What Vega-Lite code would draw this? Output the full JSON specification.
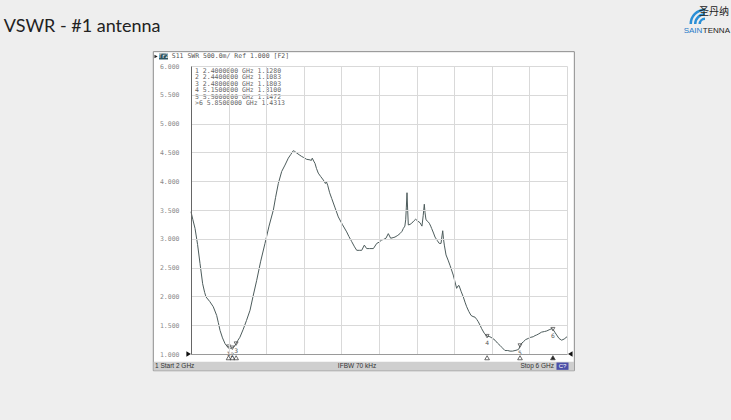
{
  "$schema": "https://vega.github.io/schema/vega-lite/v6.json",
  "width": 376,
  "height": 288,
  "autosize": {"type": "none"},
  "padding": {"left": 191, "top": 66, "right": 164, "bottom": 66},
  "background": "#eeeeee",
  "config": {
    "view": {"stroke": null},
    "axis": {"title": null, "ticks": false, "gridColor": "#d9d9d9", "gridWidth": 1}
  },
  "datasets": {
    "trace": [
      {"f": 2.000, "v": 3.47}, {"f": 2.020, "v": 3.33}, {"f": 2.043, "v": 3.18}, {"f": 2.070, "v": 2.90},
      {"f": 2.096, "v": 2.57}, {"f": 2.124, "v": 2.22}, {"f": 2.145, "v": 2.07}, {"f": 2.160, "v": 1.99},
      {"f": 2.200, "v": 1.91}, {"f": 2.237, "v": 1.82}, {"f": 2.273, "v": 1.67}, {"f": 2.290, "v": 1.55},
      {"f": 2.309, "v": 1.41}, {"f": 2.335, "v": 1.28}, {"f": 2.362, "v": 1.18}, {"f": 2.390, "v": 1.12},
      {"f": 2.400, "v": 1.128}, {"f": 2.420, "v": 1.10}, {"f": 2.440, "v": 1.108}, {"f": 2.460, "v": 1.13},
      {"f": 2.480, "v": 1.18}, {"f": 2.500, "v": 1.24}, {"f": 2.520, "v": 1.29}, {"f": 2.556, "v": 1.43},
      {"f": 2.590, "v": 1.58}, {"f": 2.628, "v": 1.76}, {"f": 2.660, "v": 2.00}, {"f": 2.699, "v": 2.28},
      {"f": 2.740, "v": 2.60}, {"f": 2.787, "v": 2.92}, {"f": 2.830, "v": 3.22}, {"f": 2.876, "v": 3.50},
      {"f": 2.900, "v": 3.72}, {"f": 2.929, "v": 3.96}, {"f": 2.965, "v": 4.17}, {"f": 3.000, "v": 4.28},
      {"f": 3.035, "v": 4.40}, {"f": 3.060, "v": 4.46}, {"f": 3.088, "v": 4.53}, {"f": 3.100, "v": 4.52},
      {"f": 3.124, "v": 4.49}, {"f": 3.150, "v": 4.46}, {"f": 3.177, "v": 4.43}, {"f": 3.200, "v": 4.41},
      {"f": 3.230, "v": 4.38}, {"f": 3.266, "v": 4.37}, {"f": 3.280, "v": 4.36}, {"f": 3.290, "v": 4.40},
      {"f": 3.305, "v": 4.35}, {"f": 3.319, "v": 4.31}, {"f": 3.335, "v": 4.22}, {"f": 3.354, "v": 4.14},
      {"f": 3.380, "v": 4.08}, {"f": 3.408, "v": 4.02}, {"f": 3.430, "v": 3.96}, {"f": 3.440, "v": 3.99},
      {"f": 3.454, "v": 3.93}, {"f": 3.475, "v": 3.80}, {"f": 3.497, "v": 3.70}, {"f": 3.530, "v": 3.55},
      {"f": 3.567, "v": 3.38}, {"f": 3.610, "v": 3.25}, {"f": 3.656, "v": 3.12}, {"f": 3.680, "v": 3.04},
      {"f": 3.710, "v": 2.95}, {"f": 3.740, "v": 2.86}, {"f": 3.763, "v": 2.80}, {"f": 3.790, "v": 2.80},
      {"f": 3.816, "v": 2.80}, {"f": 3.844, "v": 2.89}, {"f": 3.869, "v": 2.83}, {"f": 3.900, "v": 2.83},
      {"f": 3.940, "v": 2.83}, {"f": 3.976, "v": 2.92}, {"f": 4.000, "v": 2.94}, {"f": 4.029, "v": 2.98},
      {"f": 4.050, "v": 2.99}, {"f": 4.074, "v": 3.01}, {"f": 4.099, "v": 3.09}, {"f": 4.124, "v": 3.01},
      {"f": 4.150, "v": 3.02}, {"f": 4.170, "v": 3.03}, {"f": 4.200, "v": 3.06}, {"f": 4.223, "v": 3.09},
      {"f": 4.245, "v": 3.13}, {"f": 4.259, "v": 3.18}, {"f": 4.275, "v": 3.22}, {"f": 4.284, "v": 3.33},
      {"f": 4.291, "v": 3.55}, {"f": 4.298, "v": 3.80}, {"f": 4.305, "v": 3.50}, {"f": 4.312, "v": 3.24},
      {"f": 4.330, "v": 3.25}, {"f": 4.348, "v": 3.27}, {"f": 4.370, "v": 3.31}, {"f": 4.390, "v": 3.34},
      {"f": 4.410, "v": 3.31}, {"f": 4.436, "v": 3.28}, {"f": 4.457, "v": 3.22}, {"f": 4.470, "v": 3.40},
      {"f": 4.482, "v": 3.60}, {"f": 4.490, "v": 3.45}, {"f": 4.500, "v": 3.33}, {"f": 4.520, "v": 3.30},
      {"f": 4.535, "v": 3.27}, {"f": 4.550, "v": 3.22}, {"f": 4.560, "v": 3.18}, {"f": 4.580, "v": 3.10},
      {"f": 4.596, "v": 3.03}, {"f": 4.620, "v": 2.97}, {"f": 4.641, "v": 2.92}, {"f": 4.660, "v": 2.92},
      {"f": 4.670, "v": 3.05}, {"f": 4.678, "v": 3.14}, {"f": 4.686, "v": 3.00}, {"f": 4.695, "v": 2.89},
      {"f": 4.713, "v": 2.72}, {"f": 4.735, "v": 2.63}, {"f": 4.755, "v": 2.54}, {"f": 4.790, "v": 2.37},
      {"f": 4.826, "v": 2.14}, {"f": 4.840, "v": 2.18}, {"f": 4.851, "v": 2.19}, {"f": 4.875, "v": 2.08},
      {"f": 4.897, "v": 1.99}, {"f": 4.915, "v": 1.90}, {"f": 4.933, "v": 1.82}, {"f": 4.955, "v": 1.74},
      {"f": 4.979, "v": 1.67}, {"f": 5.000, "v": 1.65}, {"f": 5.021, "v": 1.64}, {"f": 5.040, "v": 1.60},
      {"f": 5.056, "v": 1.56}, {"f": 5.075, "v": 1.50}, {"f": 5.092, "v": 1.44}, {"f": 5.120, "v": 1.36},
      {"f": 5.150, "v": 1.31}, {"f": 5.180, "v": 1.30}, {"f": 5.210, "v": 1.27}, {"f": 5.234, "v": 1.24},
      {"f": 5.260, "v": 1.19}, {"f": 5.287, "v": 1.15}, {"f": 5.310, "v": 1.11}, {"f": 5.340, "v": 1.06},
      {"f": 5.370, "v": 1.06}, {"f": 5.394, "v": 1.05}, {"f": 5.420, "v": 1.05}, {"f": 5.447, "v": 1.06},
      {"f": 5.470, "v": 1.07}, {"f": 5.490, "v": 1.09}, {"f": 5.500, "v": 1.147}, {"f": 5.520, "v": 1.19},
      {"f": 5.535, "v": 1.21}, {"f": 5.560, "v": 1.25}, {"f": 5.588, "v": 1.27}, {"f": 5.615, "v": 1.29},
      {"f": 5.641, "v": 1.30}, {"f": 5.660, "v": 1.32}, {"f": 5.677, "v": 1.33}, {"f": 5.700, "v": 1.35},
      {"f": 5.730, "v": 1.38}, {"f": 5.760, "v": 1.39}, {"f": 5.784, "v": 1.40}, {"f": 5.810, "v": 1.42},
      {"f": 5.837, "v": 1.44}, {"f": 5.850, "v": 1.43}, {"f": 5.870, "v": 1.38}, {"f": 5.890, "v": 1.33},
      {"f": 5.915, "v": 1.27}, {"f": 5.943, "v": 1.24}, {"f": 5.970, "v": 1.26}, {"f": 6.000, "v": 1.30}
    ],
    "markers": [
      {"marker": 1, "num": "1", "freq": 2.40, "vswr": 1.1280, "row": " 1  2.4000000 GHz  1.1280", "active": false},
      {"marker": 2, "num": "2", "freq": 2.44, "vswr": 1.1083, "row": " 2  2.4400000 GHz  1.1083", "active": false},
      {"marker": 3, "num": "3", "freq": 2.48, "vswr": 1.1803, "row": " 3  2.4800000 GHz  1.1803", "active": false},
      {"marker": 4, "num": "4", "freq": 5.15, "vswr": 1.3100, "row": " 4  5.1500000 GHz  1.3100", "active": false},
      {"marker": 5, "num": "5", "freq": 5.50, "vswr": 1.1472, "row": " 5  5.5000000 GHz  1.1472", "active": false},
      {"marker": 6, "num": "6", "freq": 5.85, "vswr": 1.4313, "row": ">6  5.8500000 GHz  1.4313", "active": true}
    ]
  },
  "layer": [
    {
      "layer": [
        {
          "data": {"values": [{}]},
          "mark": {"type": "rect", "fill": "#ffffff", "stroke": "#8c8c8c", "strokeWidth": 1},
          "encoding": {
            "x": {"datum": 1.599, "type": "quantitative", "scale": {"domain": [2, 6], "nice": false, "zero": false}},
            "x2": {"datum": 6.078},
            "y": {"datum": 0.71, "type": "quantitative", "scale": {"domain": [1, 6], "nice": false, "zero": false}},
            "y2": {"datum": 6.249}
          }
        },
        {
          "data": {"values": [{}]},
          "mark": {"type": "rect", "fill": "#cfcfcf"},
          "encoding": {
            "x": {"datum": 1.602, "type": "quantitative"},
            "x2": {"datum": 6.075},
            "y": {"datum": 0.715, "type": "quantitative"},
            "y2": {"datum": 0.866}
          }
        },
        {
          "data": {"values": [{}]},
          "mark": {"type": "rect", "fill": "#2d5560"},
          "encoding": {
            "x": {"datum": 1.66, "type": "quantitative"},
            "x2": {"datum": 1.755},
            "y": {"datum": 6.113, "type": "quantitative"},
            "y2": {"datum": 6.217}
          }
        },
        {
          "data": {"values": [{}]},
          "mark": {"type": "point", "shape": "triangle-right", "filled": true, "fill": "#222222", "stroke": null, "size": 14, "opacity": 1},
          "encoding": {
            "x": {"datum": 1.628, "type": "quantitative"},
            "y": {"datum": 6.165, "type": "quantitative"}
          }
        },
        {
          "data": {"values": [{}]},
          "mark": {"type": "text", "text": "Tr2", "font": "DejaVu Sans Mono", "fontSize": 6, "fill": "#ffffff", "align": "center", "baseline": "middle"},
          "encoding": {
            "x": {"datum": 1.7075, "type": "quantitative"},
            "y": {"datum": 6.165, "type": "quantitative"}
          }
        },
        {
          "data": {"values": [{}]},
          "mark": {"type": "text", "text": "S11 SWR 500.0m/ Ref 1.000 [F2]", "font": "DejaVu Sans Mono", "fontSize": 6.5, "fill": "#555555", "align": "left", "baseline": "middle"},
          "encoding": {
            "x": {"datum": 1.795, "type": "quantitative"},
            "y": {"datum": 6.165, "type": "quantitative"}
          }
        },
        {
          "data": {"name": "trace"},
          "mark": {"type": "line", "stroke": "#4d5c5c", "strokeWidth": 1, "interpolate": "linear"},
          "encoding": {
            "x": {
              "field": "f", "type": "quantitative",
              "scale": {"domain": [2, 6], "nice": false, "zero": false},
              "axis": {"zindex": 1, "values": [2, 2.4, 2.8, 3.2, 3.6, 4, 4.4, 4.8, 5.2, 5.6, 6], "tickCount": 40, "labels": false, "domain": true, "domainColor": "#9a9a9a", "grid": true, "ticks": false, "title": null}
            },
            "y": {
              "field": "v", "type": "quantitative",
              "scale": {"domain": [1, 6], "nice": false, "zero": false},
              "axis": {"zindex": 1, "values": [1, 1.5, 2, 2.5, 3, 3.5, 4, 4.5, 5, 5.5, 6], "tickCount": 40, "format": ".3f", "labelFont": "DejaVu Sans Mono", "labelFontSize": 6.5, "labelColor": "#8a8a8a", "labelPadding": 12, "labelOverlap": false, "domain": true, "domainColor": "#666666", "grid": true, "ticks": false, "title": null}
            }
          }
        },
        {
          "data": {"name": "markers"},
          "mark": {"type": "point", "shape": "triangle-down", "filled": false, "stroke": "#555555", "size": 16, "strokeWidth": 0.8, "opacity": 1},
          "encoding": {
            "x": {"field": "freq", "type": "quantitative"},
            "y": {"field": "vswr", "type": "quantitative"}
          }
        },
        {
          "data": {"name": "markers"},
          "mark": {"type": "text", "font": "DejaVu Sans", "fontSize": 6, "fill": "#555555", "dy": 7, "baseline": "middle"},
          "encoding": {
            "x": {"field": "freq", "type": "quantitative"},
            "y": {"field": "vswr", "type": "quantitative"},
            "text": {"field": "num"}
          }
        },
        {
          "data": {"name": "markers"},
          "mark": {"type": "point", "shape": "triangle-up", "size": 22, "strokeWidth": 0.8, "opacity": 1, "stroke": "#444444"},
          "encoding": {
            "x": {"field": "freq", "type": "quantitative"},
            "y": {"datum": 0.935, "type": "quantitative"},
            "fill": {"condition": {"test": "datum.active", "value": "#222222"}, "value": "transparent"}
          }
        },
        {
          "data": {"values": [{}]},
          "mark": {"type": "point", "shape": "triangle-right", "filled": true, "fill": "#111111", "size": 28, "opacity": 1},
          "encoding": {
            "x": {"datum": 1.975, "type": "quantitative"},
            "y": {"datum": 1.0, "type": "quantitative"}
          }
        },
        {
          "data": {"values": [{}]},
          "mark": {"type": "point", "shape": "triangle-left", "filled": true, "fill": "#111111", "size": 28, "opacity": 1},
          "encoding": {
            "x": {"datum": 6.035, "type": "quantitative"},
            "y": {"datum": 1.0, "type": "quantitative"}
          }
        },
        {
          "data": {"values": [{}]},
          "mark": {"type": "text", "text": "1 Start 2 GHz", "font": "Liberation Sans", "fontSize": 6.5, "fill": "#333333", "align": "left", "baseline": "middle"},
          "encoding": {
            "x": {"datum": 1.617, "type": "quantitative"},
            "y": {"datum": 0.792, "type": "quantitative"}
          }
        },
        {
          "data": {"values": [{}]},
          "mark": {"type": "text", "text": "IFBW 70 kHz", "font": "Liberation Sans", "fontSize": 6.5, "fill": "#333333", "align": "center", "baseline": "middle"},
          "encoding": {
            "x": {"datum": 3.766, "type": "quantitative"},
            "y": {"datum": 0.792, "type": "quantitative"}
          }
        },
        {
          "data": {"values": [{}]},
          "mark": {"type": "text", "text": "Stop 6 GHz", "font": "Liberation Sans", "fontSize": 6.5, "fill": "#333333", "align": "right", "baseline": "middle"},
          "encoding": {
            "x": {"datum": 5.862, "type": "quantitative"},
            "y": {"datum": 0.792, "type": "quantitative"}
          }
        },
        {
          "data": {"values": [{}]},
          "mark": {"type": "rect", "fill": "#4b4fa8"},
          "encoding": {
            "x": {"datum": 5.888, "type": "quantitative"},
            "x2": {"datum": 6.016},
            "y": {"datum": 0.725, "type": "quantitative"},
            "y2": {"datum": 0.852}
          }
        },
        {
          "data": {"values": [{}]},
          "mark": {"type": "text", "text": "C?", "font": "Liberation Sans", "fontSize": 6, "fill": "#ffffff", "align": "center", "baseline": "middle"},
          "encoding": {
            "x": {"datum": 5.952, "type": "quantitative"},
            "y": {"datum": 0.79, "type": "quantitative"}
          }
        },
        {
          "data": {"values": [{}]},
          "mark": {"type": "text", "text": "VSWR - #1 antenna", "font": "Lato", "fontSize": 18, "fill": "#222222", "align": "left", "baseline": "alphabetic"},
          "encoding": {
            "x": {"datum": 0.0085, "type": "quantitative"},
            "y": {"datum": 6.59, "type": "quantitative"}
          }
        },
        {
          "data": {"values": [{"r1": 4, "r2": 6.5}, {"r1": 8.5, "r2": 11}, {"r1": 13, "r2": 15.5}]},
          "mark": {"type": "arc", "theta": -1.5708, "theta2": 0, "fill": "#2a8fd6"},
          "encoding": {
            "x": {"datum": 7.468, "type": "quantitative"},
            "y": {"datum": 6.729, "type": "quantitative"},
            "radius": {"field": "r2", "type": "quantitative", "scale": null},
            "radius2": {"field": "r1"}
          }
        },
        {
          "data": {"values": [{}]},
          "mark": {"type": "text", "text": "圣丹纳", "font": "Noto Sans CJK SC", "fontSize": 10, "fill": "#222222", "align": "right", "baseline": "middle"},
          "encoding": {
            "x": {"datum": 7.723, "type": "quantitative"},
            "y": {"datum": 6.94, "type": "quantitative"}
          }
        },
        {
          "data": {"values": [{}]},
          "mark": {"type": "text", "text": "TENNA", "font": "Liberation Sans", "fontSize": 8, "fill": "#222222", "align": "right", "baseline": "alphabetic"},
          "encoding": {
            "x": {"datum": 7.734, "type": "quantitative"},
            "y": {"datum": 6.573, "type": "quantitative"}
          }
        },
        {
          "data": {"values": [{}]},
          "mark": {"type": "text", "text": "SAIN", "font": "Liberation Sans", "fontSize": 8, "fill": "#1e7ac8", "align": "right", "baseline": "alphabetic"},
          "encoding": {
            "x": {"datum": 7.44, "type": "quantitative"},
            "y": {"datum": 6.573, "type": "quantitative"}
          }
        }
      ]
    },
    {
      "data": {"name": "markers"},
      "mark": {"type": "text", "font": "DejaVu Sans Mono", "fontSize": 6.5, "fill": "#666666", "align": "left", "baseline": "middle"},
      "encoding": {
        "x": {"datum": 2.0426, "type": "quantitative"},
        "y": {"field": "marker", "type": "quantitative", "scale": {"domain": [0.28, 44.38], "reverse": true, "nice": false, "zero": false}, "axis": null},
        "text": {"field": "row"}
      }
    }
  ],
  "resolve": {"scale": {"y": "independent"}}
}
